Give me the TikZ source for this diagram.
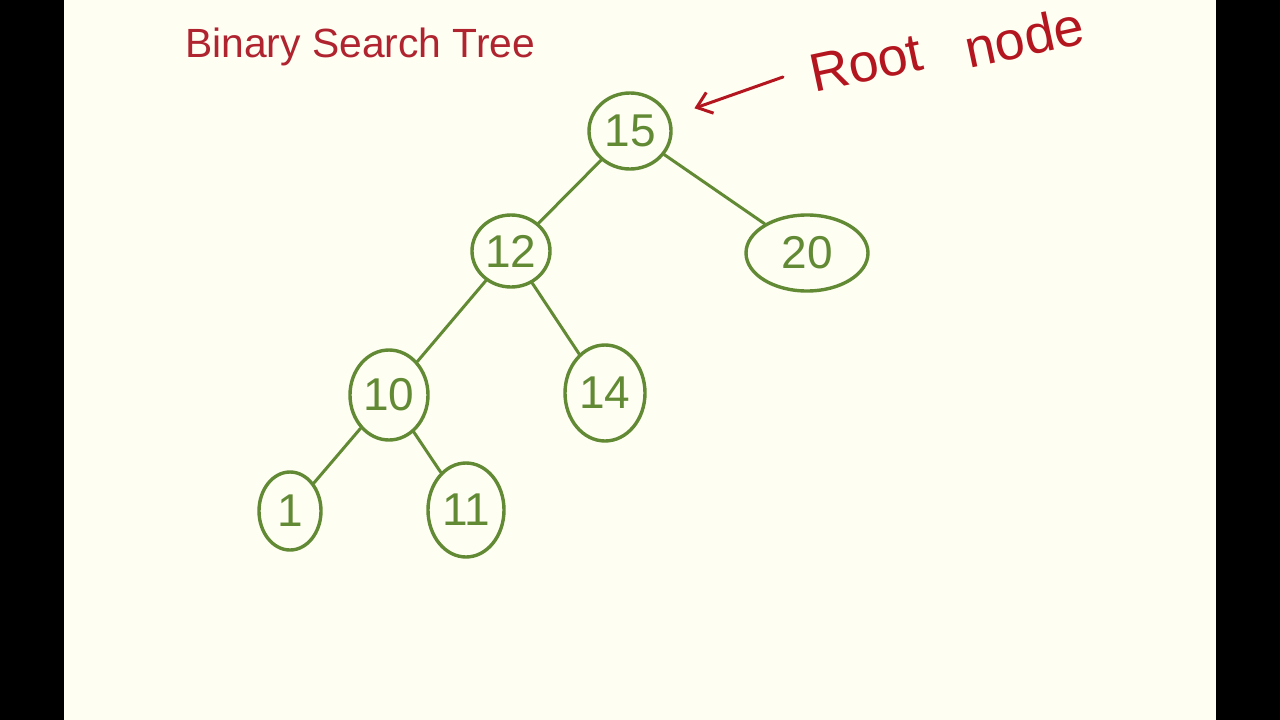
\documentclass[tikz,border=0pt]{standalone}
\usepackage{fontspec}
\setmainfont{Liberation Sans}
\usetikzlibrary{shapes.geometric,arrows.meta}
\definecolor{bg}{RGB}{254,254,242}
\definecolor{treegreen}{RGB}{98,138,52}
\definecolor{titlered}{RGB}{176,36,48}
\definecolor{handred}{RGB}{180,22,32}
\begin{document}
\begin{tikzpicture}[x=1pt,y=-1pt,
  bst/.style={ellipse,draw=treegreen,line width=3.4pt,inner sep=0pt,text=treegreen,font=\fontsize{46}{50}\selectfont},
  edge/.style={draw=treegreen,line width=3pt,line cap=round},
  hand/.style={text=handred,rotate=12,inner sep=0pt,font=\fontsize{54}{56}\selectfont},
]
\fill[black] (0,0) rectangle (1280,720);
\fill[bg] (64,0) rectangle (1216,720);
\useasboundingbox (0,0) rectangle (1280,720);

\node[anchor=base west,text=titlered,inner sep=0pt,font=\fontsize{40.8}{48}\selectfont] (title) at (185,57) {Binary Search Tree};

\node[bst,minimum width=82pt,minimum height=76pt] (n15) at (630,131) {15};
\node[bst,minimum width=78pt,minimum height=72pt] (n12) at (511,251) {12};
\node[bst,minimum width=122pt,minimum height=76pt] (n20) at (807,253) {20};
\node[bst,minimum width=78pt,minimum height=90pt] (n10) at (389,395) {10};
\node[bst,minimum width=80pt,minimum height=96pt] (n14) at (605,393) {14};
\node[bst,minimum width=62pt,minimum height=78pt] (n1) at (290,511) {1};
\node[bst,minimum width=76pt,minimum height=94pt] (n11) at (466,510) {11};

\draw[edge] (n15) -- (n12);
\draw[edge] (n15) -- (n20);
\draw[edge] (n12) -- (n10);
\draw[edge] (n12) -- (n14);
\draw[edge] (n10) -- (n1);
\draw[edge] (n10) -- (n11);

\node[hand] (rootw) at (866,63) {Root};
\node[hand] (nodew) at (1024,37) {node};
\coordinate (arrstart) at (783,77);
\draw[handred,line width=3pt,line cap=round,-{Straight Barb[length=14pt,width=22pt]},shorten >=26pt] (arrstart) -- (n15);
\end{tikzpicture}
\end{document}
